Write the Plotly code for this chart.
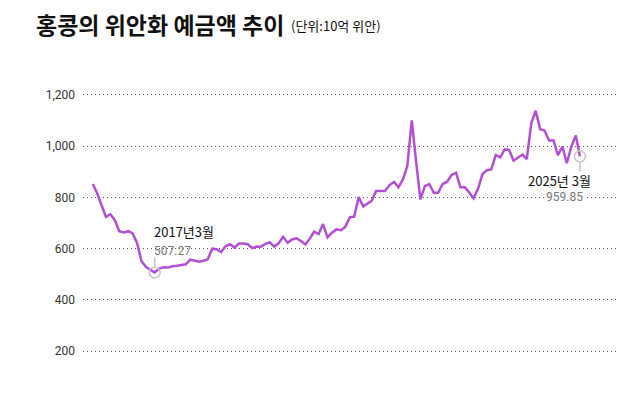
import plotly.graph_objects as go
import pandas as pd

# Monthly RMB deposits in Hong Kong (billion yuan), Jan 2016 - Mar 2025
months = pd.date_range("2016-01-01", "2025-03-01", freq="MS").strftime("%Y-%m-%d").tolist()
deposits = [
    852, 815, 770, 724, 734, 711, 668, 663, 668, 659, 621, 551,
    528, 516, 507.27, 522, 527, 526, 531, 533, 535, 539, 557, 553,
    549, 553, 559, 600, 598, 587, 609, 617, 604, 620, 620, 617,
    602, 608, 607, 619, 625, 608, 621, 646, 623, 636, 640, 630,
    616, 640, 666, 657, 696, 644, 662, 675, 672, 685, 722, 725,
    801, 765, 774, 787, 825, 826, 825, 848, 860, 839, 870, 922,
    1100, 933, 792, 844, 852, 818, 818, 852, 861, 887, 896, 839,
    839, 818, 796, 833, 890, 906, 909, 965, 956, 987, 985, 943,
    956, 967, 949, 1090, 1138, 1066, 1061, 1022, 1022, 965, 998, 933,
    998, 1041, 959.85,
]
y_ticks = [200, 400, 600, 800, 1000, 1200]
y_tick_labels = ["200", "400", "600", "800", "1,000", "1,200"]

hl_months = ["2017-03-01", "2025-03-01"]
hl_values = [507.27, 959.85]
hl_labels = ["2017년3월", "2025년 3월"]

TITLE = "홍콩의 위안화 예금액 추이"
SUBTITLE = "(단위:10억 위안)"

KR = "Noto Sans CJK KR"
NUM = "Roboto, Noto Sans CJK KR"

W, H = 632, 390  # page adds an 8px body margin
ML, MR, MT, MB = 75, 24, 74, 34
PW, PH = W - ML - MR, H - MT - MB


def px_to_paper(px, py):
    return (px - ML) / PW, 1 + (MT - py) / PH


fig = go.Figure()
fig.add_trace(go.Scatter(
    x=months, y=deposits, mode="lines",
    line=dict(color="#b150d2", width=2.5),
    hoverinfo="skip", showlegend=False,
))
fig.add_trace(go.Scatter(
    x=hl_months, y=hl_values, mode="markers",
    marker=dict(symbol="circle-open", size=11, color="#c4c4c4", line=dict(width=1.5, color="#c4c4c4")),
    hoverinfo="skip", showlegend=False,
))

# connectors
fig.add_shape(type="line", xref="x", yref="y", ysizemode="pixel",
              x0=hl_months[0], x1=hl_months[0], yanchor=hl_values[0], y0=6, y1=15,
              line=dict(color="#c4c4c4", width=1.5))
fig.add_shape(type="line", xref="x", yref="y", ysizemode="pixel",
              x0=hl_months[1], x1=hl_months[1], yanchor=hl_values[1], y0=-6, y1=-15,
              line=dict(color="#c4c4c4", width=1.5))

# labels
fig.add_annotation(x=hl_months[0], y=hl_values[0], text=hl_labels[0], showarrow=False,
                   xanchor="left", yanchor="middle", xshift=-3, yshift=41,
                   font=dict(family=KR, size=13, color="#111"))
fig.add_annotation(x=hl_months[0], y=hl_values[0], text=f"{hl_values[0]:.2f}", showarrow=False,
                   xanchor="left", yanchor="middle", xshift=-3, yshift=21,
                   font=dict(family=NUM, size=12, color="#777"))
fig.add_annotation(x=hl_months[1], y=hl_values[1], text=hl_labels[1], showarrow=False,
                   xanchor="right", yanchor="middle", xshift=13, yshift=-24,
                   font=dict(family=KR, size=13, color="#111"))
fig.add_annotation(x=hl_months[1], y=hl_values[1], text=f"{hl_values[1]:.2f}", showarrow=False,
                   xanchor="right", yanchor="middle", xshift=5, yshift=-41,
                   bgcolor="white",
                   font=dict(family=NUM, size=12, color="#777"))

# title + unit
tx, ty = px_to_paper(26, 16)
fig.add_annotation(xref="paper", yref="paper", x=tx, y=ty, text=f"<b>{TITLE}</b>",
                   showarrow=False, xanchor="left", yanchor="middle",
                   font=dict(family=KR, size=23, color="#111"))
sx, sy = px_to_paper(281, 18)
fig.add_annotation(xref="paper", yref="paper", x=sx, y=sy, text=SUBTITLE,
                   showarrow=False, xanchor="left", yanchor="middle",
                   font=dict(family=KR, size=13, color="#111"))

fig.update_layout(
    width=W, height=H,
    margin=dict(l=ML, r=MR, t=MT, b=MB),
    paper_bgcolor="white", plot_bgcolor="white",
    xaxis=dict(
        type="date", range=["2015-10-26", "2025-11-04"],
        showgrid=False, zeroline=False, showline=False, showticklabels=False, ticks="",
    ),
    yaxis=dict(
        range=[150, 1250], tickvals=y_ticks, ticktext=y_tick_labels,
        showgrid=True, gridcolor="#555", gridwidth=1, griddash="1px,3px",
        zeroline=False, showline=False, ticks="",
        ticklabelstandoff=7,
        tickfont=dict(family=NUM, size=12, color="#333"),
    ),
)

fig.write_html("out.html")
